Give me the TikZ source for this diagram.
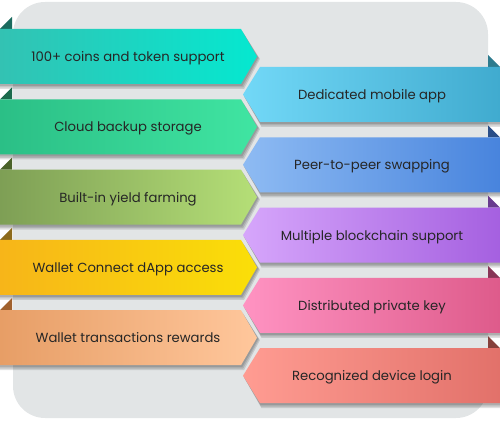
\documentclass[tikz,border=0pt]{standalone}
\usepackage{fontspec}
\setmainfont{Poppins}
\begin{document}
\begin{tikzpicture}[x=1pt,y=-1pt,
  lbl/.style={text=black!85, font=\fontsize{13.2}{15}\selectfont, inner sep=0pt, anchor=base},
  shad/.style={fill=black, opacity=0.12}]
\useasboundingbox (0,0) rectangle (500,422);
% background panel
\fill[rounded corners=32pt, fill={rgb,255:red,226;green,229;blue,230}] (13,2) rectangle (488,418);
% colours
\definecolor{l1a}{HTML}{33C2B3}\definecolor{l1b}{HTML}{05E8D0}\definecolor{l1f}{HTML}{1B6B5E}
\definecolor{l2a}{HTML}{2BBF86}\definecolor{l2b}{HTML}{40E5A2}\definecolor{l2f}{HTML}{1B6A4C}
\definecolor{l3a}{HTML}{7E9F55}\definecolor{l3b}{HTML}{B5DF77}\definecolor{l3f}{HTML}{4A6229}
\definecolor{l4a}{HTML}{F7B519}\definecolor{l4b}{HTML}{FADF08}\definecolor{l4f}{HTML}{8C6A1C}
\definecolor{l5a}{HTML}{E79E66}\definecolor{l5b}{HTML}{FFC79C}\definecolor{l5f}{HTML}{A0612E}
\definecolor{r1a}{HTML}{72D8F7}\definecolor{r1b}{HTML}{40ABCF}\definecolor{r1f}{HTML}{2D7B8E}
\definecolor{r2a}{HTML}{8EBBF3}\definecolor{r2b}{HTML}{4884DD}\definecolor{r2f}{HTML}{2A4E88}
\definecolor{r3a}{HTML}{D6A6FB}\definecolor{r3b}{HTML}{A560E0}\definecolor{r3f}{HTML}{683B8E}
\definecolor{r4a}{HTML}{FF93C2}\definecolor{r4b}{HTML}{DE5B8B}\definecolor{r4f}{HTML}{883556}
\definecolor{r5a}{HTML}{FF9C92}\definecolor{r5b}{HTML}{E2716A}\definecolor{r5f}{HTML}{86403B}
% left banners
\foreach \i/\txt in {1/{100+ coins and token support},2/{Cloud backup storage},3/{Built-in yield farming},4/{Wallet Connect dApp access},5/{Wallet transactions rewards}}{
  \pgfmathsetmacro{\t}{29+70.3*(\i-1)}
  \fill[l\i f] (0,\t) -- (12,\t-12) -- (12,\t) -- cycle;
  \foreach \d in {2,3.5,5}{
    \fill[shad] (0,\t+\d) -- (241+\d*0.6,\t+\d) -- (257+\d*0.6,\t+27.5+\d*0.5) -- (241+\d*0.6,\t+55+\d) -- (0,\t+55+\d) -- cycle;}
  \shade[left color=l\i a, right color=l\i b] (0,\t) -- (241,\t) -- (257,\t+27.5) -- (241,\t+55) -- (0,\t+55) -- cycle;
  \node[lbl] (L\i) at (128,\t+32.5) {\txt};
}
% right banners
\foreach \i/\txt in {1/{Dedicated mobile app},2/{Peer-to-peer swapping},3/{Multiple blockchain support},4/{Distributed private key},5/{Recognized device login}}{
  \pgfmathsetmacro{\t}{67+70.3*(\i-1)}
  \fill[r\i f] (488,\t-12) -- (500,\t) -- (488,\t) -- cycle;
  \foreach \d in {2,3.5,5}{
    \fill[shad] (500,\t+\d) -- (260+\d*0.3,\t+\d) -- (243+\d*0.3,\t+27.5+\d*0.5) -- (260+\d*0.3,\t+55+\d) -- (500,\t+55+\d) -- cycle;}
  \shade[left color=r\i a, right color=r\i b] (500,\t) -- (260,\t) -- (243,\t+27.5) -- (260,\t+55) -- (500,\t+55) -- cycle;
  \node[lbl] (R\i) at (372,\t+32.5) {\txt};
}
\end{tikzpicture}
\end{document}
